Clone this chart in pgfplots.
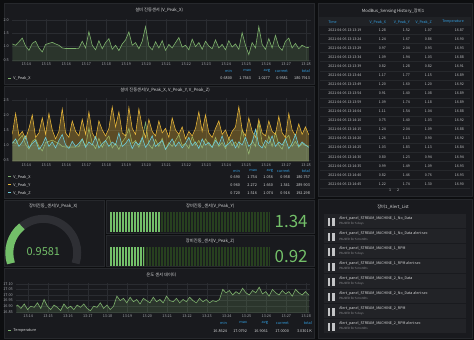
\documentclass[border=0pt]{standalone}
\usepackage{fontspec}
\setmainfont{Noto Sans CJK KR}
\usepackage{pgfplots}
\pgfplotsset{compat=1.18}
\usepackage{pgfplotstable}

\definecolor{bg}{HTML}{0D0E10}
\definecolor{panel}{HTML}{191A1E}
\definecolor{pborder}{HTML}{26282C}
\definecolor{gridc}{HTML}{2A2C31}
\definecolor{tickc}{HTML}{A3A6AB}
\definecolor{titlec}{HTML}{D8D9DA}
\definecolor{cgreen}{HTML}{7EB26D}
\definecolor{cyellow}{HTML}{EAB839}
\definecolor{cteal}{HTML}{6ED0E0}
\definecolor{gaugeg}{HTML}{73BF69}
\definecolor{dimg}{HTML}{27401F}
\definecolor{gtrack}{HTML}{2E2F34}
\definecolor{statc}{HTML}{33A2E5}
\definecolor{rowc}{HTML}{C4C5C7}
\definecolor{hdrbg}{HTML}{202226}
\definecolor{itemc}{HTML}{222327}
\definecolor{subc}{HTML}{8E9094}

\newcommand\ftick{\fontsize{3.8}{4.4}\selectfont}
\newcommand\ftitle{\fontsize{4.3}{5}\selectfont}
\newcommand\ftab{\fontsize{3.6}{4.2}\selectfont}
\newcommand\fsmall{\fontsize{2.9}{3.4}\selectfont}

\pgfplotstableread{
X Y Z T
1.10 1.35 1.05 16.89
1.05 2.05 1.20 16.91
1.18 1.30 0.95 16.88
1.32 1.45 1.10 16.92
1.02 1.20 1.30 16.87
0.86 1.55 0.90 16.90
1.12 2.00 1.05 16.89
1.20 1.25 1.15 16.93
0.95 1.40 0.85 16.88
0.80 1.90 1.00 16.96
1.08 1.35 1.25 16.90
1.12 2.05 0.95 16.87
1.16 1.50 1.10 16.91
1.10 1.20 0.90 16.89
1.05 1.45 1.15 16.86
0.95 2.20 1.35 16.92
0.93 1.40 1.00 16.88
0.93 1.25 0.88 16.90
0.93 1.80 1.12 16.87
0.93 1.45 0.95 16.91
0.94 1.30 1.05 16.89
1.20 1.85 1.20 16.92
0.95 1.35 0.92 16.88
1.56 2.10 1.10 16.86
1.05 1.40 1.00 16.90
0.88 1.20 1.28 16.89
1.22 1.80 0.90 16.93
0.92 1.50 1.05 16.88
1.15 1.30 1.15 16.91
1.30 1.55 0.95 16.87
0.90 2.27 1.10 16.90
1.05 1.60 1.00 16.99
0.85 2.10 1.40 16.95
1.10 1.40 0.95 16.97
1.25 1.30 1.05 16.93
1.55 2.25 1.20 16.98
1.05 1.55 0.88 16.94
1.15 1.35 1.10 16.96
0.92 2.20 1.00 16.92
1.20 1.60 1.25 16.97
1.75 1.25 0.92 16.95
1.02 1.85 1.08 16.93
0.88 1.45 1.30 16.98
1.18 1.30 0.95 16.94
0.95 1.80 1.05 16.96
1.22 1.40 1.15 16.93
0.86 1.55 0.85 16.99
1.08 1.25 1.02 16.95
0.95 1.90 1.20 16.94
1.15 1.50 0.95 16.97
1.34 1.35 1.10 16.93
0.98 1.60 0.90 16.96
1.05 1.20 1.05 16.94
0.88 1.45 1.25 16.98
1.28 1.30 0.98 16.95
1.00 1.55 1.10 16.93
1.15 2.10 0.88 16.97
0.90 1.45 1.20 16.94
1.20 2.00 1.00 16.96
1.02 1.40 1.08 16.93
0.92 1.25 0.92 16.95
1.25 1.55 1.15 16.94
0.95 1.80 1.00 16.96
1.08 1.35 1.30 17.05
0.88 1.50 0.95 17.02
1.22 1.20 1.05 17.04
0.98 1.45 1.18 17.00
1.10 1.60 0.90 17.03
0.90 2.27 1.10 17.01
1.52 1.50 1.00 17.06
1.05 1.30 1.25 17.02
0.70 1.90 0.95 17.00
1.15 1.45 1.08 17.04
0.95 1.25 1.52 17.02
1.75 1.85 1.00 17.07
1.08 1.40 0.90 17.01
0.90 1.30 1.15 17.03
1.30 1.80 1.05 16.99
0.95 1.45 1.30 17.05
1.42 1.35 0.95 17.02
1.00 1.95 1.10 17.00
0.86 1.40 1.00 17.04
1.20 1.25 1.20 17.01
1.32 2.05 0.88 17.03
0.95 1.50 1.05 16.99
1.12 1.30 1.35 17.05
0.92 1.70 0.95 17.02
1.05 1.35 1.10 17.00
0.98 1.60 1.00 17.03
0.96 1.34 0.92 17.00
}\data

\pgfplotsset{
  gp/.style={
    scale only axis, anchor=south west, no markers,
    axis line style={draw=none}, major tick length=0pt,
    grid=major, grid style={draw=gridc, line width=0.4bp},
    tick label style={font=\ftick, text=tickc},
    xticklabel style={yshift=1.6bp},
    /pgf/number format/assume math mode=true,
    scaled y ticks=false,
    xtick={14,...,28},
    xticklabels={13:14,13:15,13:16,13:17,13:18,13:19,13:20,13:21,13:22,13:23,13:24,13:25,13:26,13:27,13:28},
    xmin=13.3, xmax=28.25,
    yticklabel style={/pgf/number format/.cd, fixed, fixed zerofill, precision=1},
  },
  bg1/.style={scale only axis, anchor=south west, hide axis, xmin=0, xmax=4.3, ymin=-0.5, ymax=0.5},
}

\begin{document}
\begin{tikzpicture}[x=1bp,y=1bp]
\fill[bg] (0,0) rectangle (474,340);
% panels
\foreach \a/\b/\c/\d in {4/3/314/84, 4/86/314/198, 4/200/104/266, 106/200/314/233, 106/235/314/266, 4/268/314/338, 318/3/472/196, 318/199/472/338}{
  \filldraw[fill=panel, draw=pborder, line width=0.4bp] (\a,{340-\b}) rectangle (\c,{340-\d});
}

% ---------- Panel A ----------
\node[font=\ftitle, text=titlec] at (159,{340-10}) {설비 진동센서 (V\_Peak\_X)};
\begin{axis}[gp, at={(12bp,278.7bp)}, width=299bp, height=42.67bp, ymin=0.45, ymax=2.05, ytick={0.5,1,1.5,2}]
\addplot[draw=none, fill=cgreen, fill opacity=0.18] table[x expr=13.3+\coordindex/6, y=X]{\data} \closedcycle;
\addplot[cgreen, line width=0.6bp] table[x expr=13.3+\coordindex/6, y=X]{\data};
\end{axis}
\draw[cgreen, line width=0.8bp] (8,{340-78}) -- (11,{340-78});
\node[anchor=west, font=\ftick, text=titlec, inner sep=0] at (13,{340-78}) {V\_Peak\_X};
\foreach \xx/\hh/\vv in {232/min/0.6800, 251/max/1.7543, 270/avg/1.0277, 288/current/0.9581, 310/total/180.7913}{
  \node[anchor=east, font=\ftick, text=statc, inner sep=0] at (\xx,{340-71}) {\hh};
  \node[anchor=east, font=\ftick, text=titlec, inner sep=0] at (\xx,{340-78.5}) {\vv};
}

% ---------- Panel B ----------
\node[font=\ftitle, text=titlec] at (165,{340-90}) {설비 진동센서(V\_Peak\_X, V\_Peak\_Y, V\_Peak\_Z)};
\begin{axis}[gp, at={(12bp,178.5bp)}, width=299bp, height=63bp, ymin=0.45, ymax=2.55, ytick={0.5,1,1.5,2,2.5}]
\addplot[draw=none, fill=cgreen, fill opacity=0.15] table[x expr=13.3+\coordindex/6, y=X]{\data} \closedcycle;
\addplot[cgreen, line width=0.55bp] table[x expr=13.3+\coordindex/6, y=X]{\data};
\addplot[draw=none, fill=cyellow, fill opacity=0.32] table[x expr=13.3+\coordindex/6, y=Y]{\data} \closedcycle;
\addplot[cyellow, line width=0.55bp] table[x expr=13.3+\coordindex/6, y=Y]{\data};
\addplot[draw=none, fill=cteal, fill opacity=0.18] table[x expr=13.3+\coordindex/6, y=Z]{\data} \closedcycle;
\addplot[cteal, line width=0.55bp] table[x expr=13.3+\coordindex/6, y=Z]{\data};
\end{axis}
\foreach \cc/\nn/\py in {cgreen/X/177, cyellow/Y/185, cteal/Z/193}{
  \draw[\cc, line width=0.8bp] (8,{340-\py}) -- (11,{340-\py});
  \node[anchor=west, font=\ftick, text=titlec, inner sep=0] at (13,{340-\py}) {V\_Peak\_\nn};
}
\foreach \xx/\hh/\va/\vb/\vc in {240/min/0.690/0.960/0.720, 257/max/1.754/2.272/1.516, 273/avg/1.036/1.660/1.074, 290/current/0.958/1.341/0.916, 310/total/180.757/289.903/192.298}{
  \node[anchor=east, font=\ftick, text=statc, inner sep=0] at (\xx,{340-171}) {\hh};
  \node[anchor=east, font=\ftick, text=titlec, inner sep=0] at (\xx,{340-177}) {\va};
  \node[anchor=east, font=\ftick, text=titlec, inner sep=0] at (\xx,{340-185}) {\vb};
  \node[anchor=east, font=\ftick, text=titlec, inner sep=0] at (\xx,{340-193}) {\vc};
}

% ---------- Gauge ----------
\node[font=\ftitle, text=titlec] at (53,{340-206}) {장비진동\_센서(V\_Peak\_X)};
\def\gval{0.9581}
\pgfmathsetmacro\gang{198-216*\gval/3.0}
\draw[gtrack, line width=8bp] (43,{340-253}) ++(198:34) arc[start angle=198, end angle=-18, radius=34];
\draw[gaugeg, line width=8bp] (43,{340-253}) ++(198:34) arc[start angle=198, end angle=\gang, radius=34];
\node[font=\fontsize{11}{12}\selectfont, text=gaugeg] at (43,{340-252}) {0.9581};

% ---------- Bar gauges ----------
\node[font=\ftitle, text=titlec] at (210,{340-206}) {장비진동\_센서(V\_Peak\_Y)};
\begin{axis}[bg1, at={(110bp,108bp)}, width=160bp, height=20bp]
\addplot[xbar, bar width=20bp, bar shift=0pt, fill=dimg, draw=none] coordinates {(4.3,0)};
\addplot[xbar, bar width=20bp, bar shift=0pt, fill=gaugeg, draw=none] coordinates {(1.34,0)};
\end{axis}
\foreach \g in {112,115,...,270}{\draw[panel, line width=0.9bp] (\g,{340-232}) -- (\g,{340-212});}
\node[font=\fontsize{17}{18}\selectfont, text=gaugeg] at (291,{340-222}) {1.34};

\node[font=\ftitle, text=titlec] at (210,{340-241}) {장비진동\_센서(V\_Peak\_Z)};
\begin{axis}[bg1, at={(110bp,74bp)}, width=160bp, height=19bp]
\addplot[xbar, bar width=19bp, bar shift=0pt, fill=dimg, draw=none] coordinates {(4.3,0)};
\addplot[xbar, bar width=19bp, bar shift=0pt, fill=gaugeg, draw=none] coordinates {(0.92,0)};
\end{axis}
\foreach \g in {112,115,...,270}{\draw[panel, line width=0.9bp] (\g,{340-266}) -- (\g,{340-247});}
\node[font=\fontsize{17}{18}\selectfont, text=gaugeg] at (291,{340-257}) {0.92};

% ---------- Temperature ----------
\node[font=\ftitle, text=titlec] at (161,{340-275}) {온도 센서 데이터};
\begin{axis}[gp, at={(16bp,26.9bp)}, width=294bp, height=30.24bp, xmin=13.4, xmax=28.2, ymin=16.84, ymax=17.11,
  ytick={16.85,16.90,16.95,17.00,17.05,17.10},
  yticklabel style={/pgf/number format/.cd, fixed, fixed zerofill, precision=2}]
\addplot[draw=none, fill=cgreen, fill opacity=0.18] table[x expr=13.3+\coordindex/6, y=T]{\data} \closedcycle;
\addplot[cgreen, line width=0.6bp] table[x expr=13.3+\coordindex/6, y=T]{\data};
\end{axis}
\draw[cgreen, line width=0.8bp] (8,{340-331}) -- (11,{340-331});
\node[anchor=west, font=\ftick, text=titlec, inner sep=0] at (13,{340-331}) {Temperature};
\foreach \xx/\hh/\vv in {227/min/16.8624, 247/max/17.0792, 268/avg/16.9061, 289/current/17.0000, 312/total/3.0301 K}{
  \node[anchor=east, font=\ftick, text=statc, inner sep=0] at (\xx,{340-323}) {\hh};
  \node[anchor=east, font=\ftick, text=titlec, inner sep=0] at (\xx,{340-331}) {\vv};
}

% ---------- Table ----------
\node[font=\ftitle, text=titlec] at (393,{340-11}) {ModBus\_Sensing History\_장비1};
\fill[hdrbg] (319,{340-17.5}) rectangle (471,{340-26});
\node[anchor=west, font=\ftab, text=statc, inner sep=0] at (328,{340-22}) {Time};
\foreach \xx/\hh in {386/V\_Peak\_X, 410/V\_Peak\_Y, 432/V\_Peak\_Z, 464/Temperature}{
  \node[anchor=east, font=\ftab, text=statc, inner sep=0] at (\xx,{340-22}) {\hh};
}
\foreach \t/\a/\b/\c/\d [count=\k from 0] in {
13:13:19/1.28/1.52/1.07/16.87, 13:13:24/1.24/1.67/0.86/16.90, 13:13:29/0.97/2.04/0.93/16.93,
13:13:34/1.09/1.94/1.03/16.88, 13:13:39/0.82/1.28/0.82/16.91, 13:13:44/1.17/1.77/1.15/16.89,
13:13:49/1.20/1.60/1.20/16.92, 13:13:54/0.91/1.40/1.08/16.89, 13:13:59/1.09/1.74/1.18/16.89,
13:14:04/1.11/1.54/1.04/16.88, 13:14:10/0.75/1.40/1.03/16.92, 13:14:15/1.24/2.04/1.09/16.88,
13:14:20/1.26/1.13/0.90/16.92, 13:14:25/1.03/1.83/1.13/16.84, 13:14:30/0.80/1.23/0.94/16.94,
13:14:35/0.99/1.49/1.09/16.93, 13:14:40/0.82/1.46/0.76/16.93, 13:14:45/1.22/1.74/1.30/16.90}{
  \pgfmathsetmacro\yy{340-30-\k*9.06}
  \draw[pborder, line width=0.3bp] (320,\yy-4.5) -- (470,\yy-4.5);
  \node[anchor=west, font=\ftab, text=rowc, inner sep=0] at (328,\yy) {2021-04-06 \t};
  \node[anchor=east, font=\ftab, text=rowc, inner sep=0] at (386,\yy) {\a};
  \node[anchor=east, font=\ftab, text=rowc, inner sep=0] at (410,\yy) {\b};
  \node[anchor=east, font=\ftab, text=rowc, inner sep=0] at (432,\yy) {\c};
  \node[anchor=east, font=\ftab, text=rowc, inner sep=0] at (464,\yy) {\d};
}
\node[font=\ftab, text=rowc] at (390,{340-190}) {1};
\node[font=\ftab, text=rowc] at (398,{340-190}) {2};

% ---------- Alert list ----------
\node[font=\ftitle, text=titlec] at (393,{340-207}) {장비1\_Alert\_List};
\foreach \n/\s [count=\k from 0] in {1\_No\_Data/days, 1\_No\_Data alert-sec/months, 1\_RPM/days, 1\_RPM alert-sec/months, 2\_No\_Data/days, 2\_No\_Data alert-sec/months, 2\_RPM/days, 2\_RPM alert-sec/months}{
  \pgfmathsetmacro\yt{340-214-\k*15}
  \fill[itemc] (324,\yt) rectangle (466,\yt-14);
  \fill[rowc] (328,\yt-4) rectangle (330.3,\yt-12.5);
  \fill[rowc] (332.3,\yt-4) rectangle (334.6,\yt-12.5);
  \node[anchor=west, font=\ftab, text=titlec, inner sep=0] at (339,\yt-4.8) {Alert\_panel\_STREAM\_MACHINE\_\n};
  \node[anchor=west, font=\fsmall, text=subc, inner sep=0] at (339,\yt-10) {PAUSED for 5 \s};
}
\end{tikzpicture}
\end{document}
